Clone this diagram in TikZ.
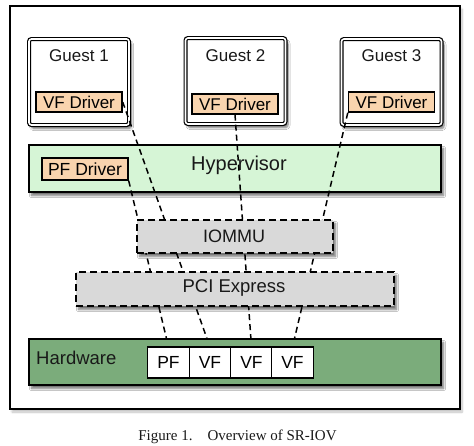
\documentclass[tikz,border=0pt]{standalone}
\usepackage{fontspec}
\setmainfont{Liberation Sans}
\newfontfamily\capfont{Liberation Serif}
\usetikzlibrary{shadows.blur}
\definecolor{peach}{HTML}{F9D4AE}
\definecolor{hvgreen}{HTML}{D6F5D6}
\definecolor{hwgreen}{HTML}{7BAC7B}
\definecolor{boxgray}{HTML}{D9D9D9}
\newcommand{\fsz}[1]{\fontsize{#1}{#1}\selectfont}
\begin{document}
\begin{tikzpicture}[x=1pt,y=-1pt,
  shd/.style={blur shadow={shadow xshift=2.5pt, shadow yshift=-3.5pt, shadow blur steps=6, shadow opacity=55}},
  box/.style={draw=black, line width=1.4pt, inner sep=0pt},
  guestbox/.style={draw=black, line width=1.2pt, double=white, double distance=1.6pt, rounded corners=2.5pt, fill=white, minimum width=100pt, minimum height=86pt, inner sep=0pt, shd},
  lbl/.style={inner sep=0pt, text=black!90},
  driver/.style={box, fill=peach, minimum width=86pt, minimum height=20pt, font=\fsz{17}},
  dbox/.style={draw=black, line width=1.4pt, dash pattern=on 7pt off 4pt, fill=boxgray, inner sep=0pt, shd},
  link/.style={draw=black, line width=1.5pt, dash pattern=on 6pt off 4pt},
  fnbox/.style={box, fill=white, minimum width=41.5pt, minimum height=31pt, font=\fsz{17.5}}]
\useasboundingbox (0,0) rectangle (474,445);
\clip (0,0) rectangle (474,445);
% outer frame
\node[draw=black, line width=1.4pt, fill=white, minimum width=450pt, minimum height=403pt, inner sep=0pt,
  blur shadow={shadow xshift=2pt, shadow yshift=-3pt, shadow blur steps=8, shadow opacity=25}] (frame) at (235,207.5) {};
% guests
\node[guestbox] (g1) at (79,82) {};
\node[guestbox] (g2) at (235.5,81) {};
\node[guestbox] (g3) at (391.5,82) {};
\node[lbl, font=\fsz{17}] (g1t) at (79,56) {Guest 1};
\node[lbl, font=\fsz{17}] (g2t) at (235.5,56) {Guest 2};
\node[lbl, font=\fsz{17}] (g3t) at (391.5,56) {Guest 3};
\node[driver] (vf1) at (79,102) {VF Driver};
\node[driver] (vf2) at (235,104) {VF Driver};
\node[driver] (vf3) at (391.5,102) {VF Driver};
% hypervisor
\node[box, fill=hvgreen, minimum width=412pt, minimum height=47pt, shd] (hv) at (235,168.5) {};
\node[lbl, font=\fsz{20}] (hvt) at (239,165) {Hypervisor};
\node[driver, minimum height=22pt, font=\fsz{17.5}] (pfd) at (85,169) {PF Driver};
% positions of the hardware functions
\path (235,362) coordinate (hwc);
\path (168.5,362.5) coordinate (pfc) (210,362.5) coordinate (vfc1) (251.5,362.5) coordinate (vfc2) (292.5,362.5) coordinate (vfc3);
% links
\draw[link] (pfd.south east) -- ($(pfc)+(0,-15.5)$);
\draw[link] (vf1.east) -- ($(vfc1)+(0,-15.5)$);
\draw[link] (vf2.south) -- ($(vfc2)+(0,-15.5)$);
\draw[link] (vf3.south west) -- ($(vfc3)+(0,-15.5)$);
% IOMMU and PCI Express
\node[dbox, minimum width=196pt, minimum height=33pt] (iommu) at (235,236.5) {};
\node[lbl, font=\fsz{18}] (iommut) at (234,236) {IOMMU};
\node[dbox, minimum width=318pt, minimum height=34pt] (pci) at (235,289) {};
\node[lbl, font=\fsz{18.5}] (pcit) at (234,288) {PCI Express};
% hardware
\node[box, fill=hwgreen, minimum width=412pt, minimum height=46pt, shd] (hw) at (hwc) {};
\node[lbl, font=\fsz{18.5}, anchor=west] (hwt) at (36,358) {Hardware};
\node[fnbox] (pf) at (pfc) {PF};
\node[fnbox] (vfa) at (vfc1) {VF};
\node[fnbox] (vfb) at (vfc2) {VF};
\node[fnbox] (vfcc) at (vfc3) {VF};
% caption
\node[lbl, font=\capfont\fsz{15}, anchor=base] (cap) at (237.5,440) {Figure 1.\quad Overview of SR-IOV};
\end{tikzpicture}
\end{document}
